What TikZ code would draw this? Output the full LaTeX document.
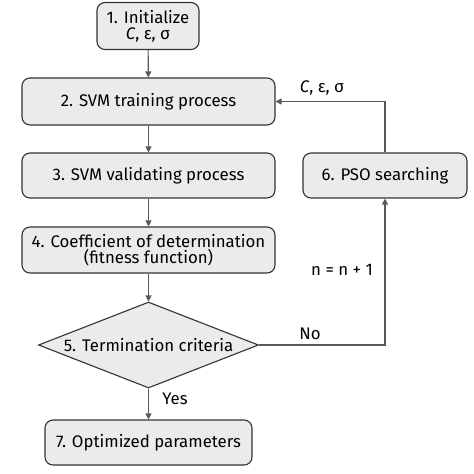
\documentclass[tikz,border=0pt]{standalone}
\usepackage{fontspec}
\setmainfont{Fira Sans}
\usetikzlibrary{shapes.geometric,arrows.meta}
\begin{document}
\begin{tikzpicture}[x=1pt,y=-1pt,
  every node/.style={font=\fontsize{16.8}{19}\selectfont},
  box/.style={draw=black!80, fill=black!8, line width=1.1pt, rounded corners=8pt, align=center, inner sep=0pt},
  dec/.style={draw=black!80, fill=black!8, line width=1.1pt, shape=diamond, aspect=2.56, inner sep=0pt, minimum width=220pt, minimum height=86pt},
  arr/.style={draw=black!65, line width=1.1pt, -{Triangle[length=6pt,width=6pt]}},
  lbl/.style={inner sep=1pt}]
\useasboundingbox (0,0) rectangle (474,474);
\node[box, minimum width=102pt, minimum height=47pt] (n1) at (148,26) {1. Initialize\\[-3pt]\textit{C}, ε, σ};
\node[box, minimum width=253pt, minimum height=47pt] (n2) at (148.5,101.5) {2. SVM training process};
\node[box, minimum width=253pt, minimum height=45pt] (n3) at (148.5,175.5) {3. SVM validating process};
\node[box, minimum width=253pt, minimum height=46pt] (n4) at (148.5,250) {4. Coefficient of determination\\[-3pt](fitness function)};
\node[dec] (n5) at (148.5,345) {5. Termination criteria};
\node[box, minimum width=164pt, minimum height=45pt] (n6) at (385,175.5) {6. PSO searching};
\node[box, minimum width=207pt, minimum height=45pt] (n7) at (148.5,442.5) {7. Optimized parameters};
\draw[arr] (n1) -- (n2);
\draw[arr] (n2) -- (n3);
\draw[arr] (n3) -- (n4);
\draw[arr] (n4) -- (n5);
\draw[arr] (n5) -- (n7);
\draw[arr] (n5.east) -| (n6.south);
\draw[arr] (n6.north) |- (n2.east);
\node[lbl] (yes) at (175,399) {Yes};
\node[lbl] (no) at (310,334) {No};
\node[lbl] (inc) at (342,270) {n = n + 1};
\node[lbl] (par) at (322,88) {\textit{C}, ε, σ};
\end{tikzpicture}
\end{document}
